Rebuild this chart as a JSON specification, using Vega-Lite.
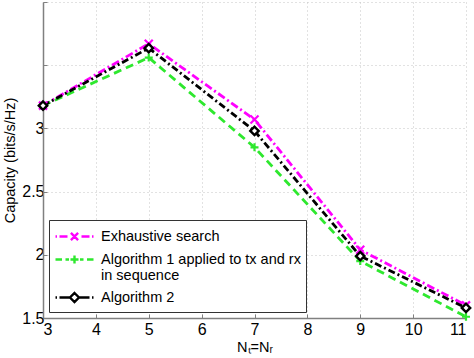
{
  "$schema": "https://vega.github.io/schema/vega-lite/v6.json",
  "width": 423,
  "height": 316,
  "autosize": "none",
  "padding": {"left": 43, "top": 2, "right": 8, "bottom": 40},
  "background": "white",
  "config": {
    "view": {"stroke": null},
    "font": "Liberation Sans",
    "axis": {
      "labelFont": "Liberation Sans",
      "labelFontSize": 16,
      "labelColor": "black",
      "titleFont": "Liberation Sans",
      "titleFontSize": 14.5,
      "titleFontWeight": "normal",
      "titleColor": "black",
      "domainColor": "#808080",
      "domainWidth": 1.5,
      "tickColor": "#808080",
      "tickSize": -4,
      "gridColor": "#c4c4c4",
      "gridDash": [1, 3],
      "gridWidth": 1
    }
  },
  "data": {
    "values": [
      {"n": 3, "series": "Exhaustive search", "cap": 3.18},
      {"n": 5, "series": "Exhaustive search", "cap": 3.67},
      {"n": 7, "series": "Exhaustive search", "cap": 3.07},
      {"n": 9, "series": "Exhaustive search", "cap": 2.04},
      {"n": 11, "series": "Exhaustive search", "cap": 1.6},
      {"n": 3, "series": "Algorithm 1 applied to tx and rx in sequence", "cap": 3.18},
      {"n": 5, "series": "Algorithm 1 applied to tx and rx in sequence", "cap": 3.56},
      {"n": 7, "series": "Algorithm 1 applied to tx and rx in sequence", "cap": 2.85},
      {"n": 9, "series": "Algorithm 1 applied to tx and rx in sequence", "cap": 1.95},
      {"n": 11, "series": "Algorithm 1 applied to tx and rx in sequence", "cap": 1.51},
      {"n": 3, "series": "Algorithm 2", "cap": 3.18},
      {"n": 5, "series": "Algorithm 2", "cap": 3.635},
      {"n": 7, "series": "Algorithm 2", "cap": 2.98},
      {"n": 9, "series": "Algorithm 2", "cap": 1.99},
      {"n": 11, "series": "Algorithm 2", "cap": 1.58}
    ]
  },
  "encoding": {
    "x": {
      "field": "n",
      "type": "quantitative",
      "scale": {"domain": [3, 11], "nice": false, "zero": false},
      "axis": {"values": [3, 4, 5, 6, 7, 8, 9, 10, 11], "title": "Nₜ=Nᵣ", "labelPadding": 7, "titlePadding": 3}
    },
    "y": {
      "field": "cap",
      "type": "quantitative",
      "scale": {"domain": [1.5, 4], "nice": false, "zero": false},
      "axis": {"values": [1.5, 2, 2.5, 3, 3.5, 4], "format": "~g", "labelExpr": "datum.value > 3 ? '' : datum.label", "title": "Capacity (bits/s/Hz)", "labelPadding": 3, "titlePadding": 4}
    }
  },
  "layer": [
    {
      "transform": [{"filter": "datum.series == 'Exhaustive search'"}],
      "mark": {"type": "line", "strokeWidth": 2.8, "stroke": "#ff00ff", "strokeDash": [8, 3, 2, 3]},
      "encoding": {}
    },
    {
      "transform": [{"filter": "datum.series == 'Algorithm 1 applied to tx and rx in sequence'"}],
      "mark": {"type": "line", "strokeWidth": 2.8, "stroke": "#2ee82e", "strokeDash": [8, 5]},
      "encoding": {}
    },
    {
      "transform": [{"filter": "datum.series == 'Algorithm 2'"}],
      "mark": {"type": "line", "strokeWidth": 2.8, "stroke": "#000000", "strokeDash": [7, 3, 2, 3]},
      "encoding": {}
    },
    {
      "transform": [{"filter": "datum.series == 'Exhaustive search'"}],
      "mark": {"type": "point", "shape": "M-1,-1L1,1M-1,1L1,-1", "size": 64, "filled": false, "opacity": 1, "stroke": "#ff00ff", "strokeWidth": 2.2}
    },
    {
      "transform": [{"filter": "datum.series == 'Algorithm 1 applied to tx and rx in sequence'"}],
      "mark": {"type": "point", "shape": "M-1,0L1,0M0,-1L0,1", "size": 64, "filled": false, "opacity": 1, "stroke": "#2ee82e", "strokeWidth": 2.2}
    },
    {
      "transform": [{"filter": "datum.series == 'Algorithm 2'"}],
      "mark": {"type": "point", "shape": "diamond", "size": 70, "filled": false, "fill": "white", "fillOpacity": 1, "opacity": 1, "stroke": "#000000", "strokeWidth": 2.4}
    },
    {
      "transform": [{"filter": "false"}],
      "mark": {"type": "point", "filled": false, "opacity": 1, "strokeWidth": 2.4},
      "encoding": {
        "color": {
          "field": "series", "type": "nominal",
          "scale": {"domain": ["Exhaustive search", "Algorithm 1 applied to tx and rx in sequence", "Algorithm 2"], "range": ["#ff00ff", "#2ee82e", "#000000"]},
          "legend": {
            "title": null,
            "orient": "bottom-left",
            "offset": 6,
            "strokeColor": "#333333",
            "fillColor": "white",
            "padding": 5,
            "symbolSize": 400,
            "symbolOffset": 9,
            "symbolStrokeWidth": 2.4,
            "symbolOpacity": 1,
            "labelFont": "Liberation Sans",
            "labelFontSize": 14.5,
            "labelColor": "black",
            "labelLimit": 400,
            "labelOffset": 15,
            "rowPadding": 3,
            "labelExpr": "datum.value == 'Algorithm 1 applied to tx and rx in sequence' ? ['Algorithm 1 applied to tx and rx', 'in sequence'] : datum.label",
            "encode": {"labels": {"update": {"lineHeight": {"value": 18}}}}
          }
        },
        "shape": {
          "field": "series", "type": "nominal",
          "scale": {"domain": ["Exhaustive search", "Algorithm 1 applied to tx and rx in sequence", "Algorithm 2"], "range": [
            "M-1.9,0H-1.75M-1.5,0H-0.7M-0.36,-0.36L0.36,0.36M-0.36,0.36L0.36,-0.36M0.7,0H1.5M1.75,0H1.9",
            "M-1.9,0H-1.25M-0.9,0H-0.55M-0.4,0H0.4M0,-0.4V0.4M0.55,0H0.9M1.25,0H1.9",
            "M-1.9,0H-1.75M-1.5,0H-0.45M0,-0.45L0.45,0L0,0.45L-0.45,0ZM0.45,0H1.5M1.75,0H1.9"
          ]},
          "legend": {
            "title": null,
            "orient": "bottom-left",
            "offset": 6,
            "strokeColor": "#333333",
            "fillColor": "white",
            "padding": 5,
            "symbolSize": 400,
            "symbolOffset": 9,
            "symbolStrokeWidth": 2.4,
            "symbolOpacity": 1,
            "labelFont": "Liberation Sans",
            "labelFontSize": 14.5,
            "labelColor": "black",
            "labelLimit": 400,
            "labelOffset": 15,
            "rowPadding": 3,
            "labelExpr": "datum.value == 'Algorithm 1 applied to tx and rx in sequence' ? ['Algorithm 1 applied to tx and rx', 'in sequence'] : datum.label",
            "encode": {"labels": {"update": {"lineHeight": {"value": 18}}}}
          }
        }
      }
    }
  ]
}
